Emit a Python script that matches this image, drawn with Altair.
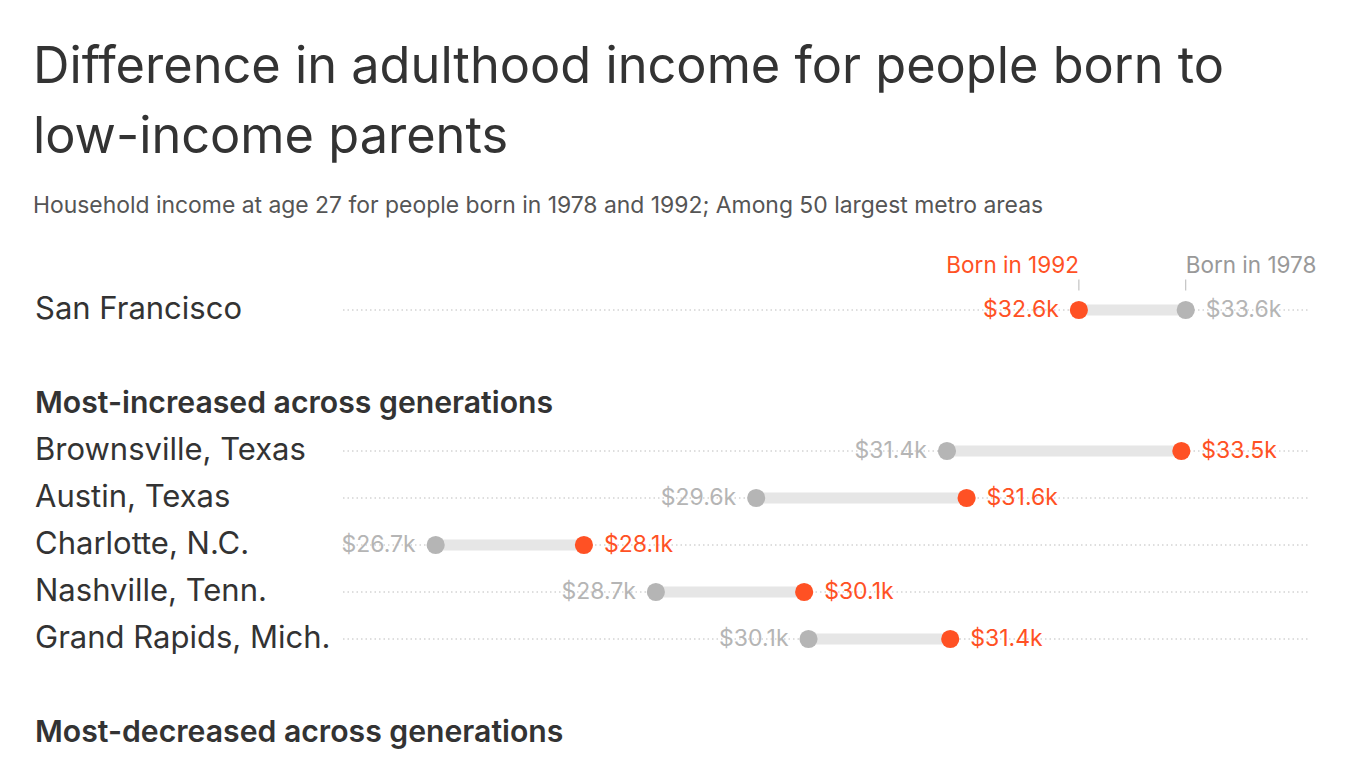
import altair as alt
import pandas as pd

# ---- data ----
cities = ["San Francisco", "Brownsville, Texas", "Austin, Texas",
          "Charlotte, N.C.", "Nashville, Tenn.", "Grand Rapids, Mich."]
rows = [0, 3, 4, 5, 6, 7]
born_1978 = [33.58, 31.39, 29.64, 26.70, 28.72, 30.12]
born_1992 = [32.60, 33.54, 31.57, 28.06, 30.08, 31.42]

headings = ["Most-increased across generations", "Most-decreased across generations"]
heading_rows = [2, 9]

x_domain = [25.85, 34.72]
FONT = "Inter"
ORANGE = "#ff5124"
GRAY_DOT = "#b5b5b5"
GRAY_TXT = "#999999"
DARK = "#333333"

wide = pd.DataFrame({"city": cities, "row": rows, "v1978": born_1978, "v1992": born_1992})
long_rows = []
for c, r, a, b in zip(cities, rows, born_1978, born_1992):
    long_rows.append({"city": c, "row": r, "year": "1978", "value": a, "side": "left" if a < b else "right"})
    long_rows.append({"city": c, "row": r, "year": "1992", "value": b, "side": "left" if b < a else "right"})
long = pd.DataFrame(long_rows)
heads = pd.DataFrame({"text": headings, "row": heading_rows})
annot = long[long["city"] == "San Francisco"].copy()
annot["label"] = "Born in " + annot["year"]

xs = alt.Scale(domain=x_domain, range=[308, 1275], nice=False, zero=False)
ys = alt.Scale(domain=[0, 9], range=[40, 463], nice=False, zero=False)
color = alt.Scale(domain=["1978", "1992"], range=[GRAY_DOT, ORANGE])
tcolor = alt.Scale(domain=["1978", "1992"], range=[GRAY_TXT, ORANGE])

Y = alt.Y("row:Q", scale=ys, axis=None)

base_w = alt.Chart(wide)
base_l = alt.Chart(long)

guides = base_w.mark_rule(color="#bdbdbd", strokeWidth=1, strokeDash=[1.5, 3]).encode(
    x=alt.value(308), x2=alt.value(1275), y=Y)

bars = base_w.mark_rule(color="#e6e6e6", strokeWidth=11, strokeCap="butt").encode(
    x=alt.X("v1978:Q", scale=xs, axis=None), x2="v1992:Q", y=Y)

dots = base_l.mark_circle(size=330, opacity=1).encode(
    x=alt.X("value:Q", scale=xs, axis=None), y=Y,
    color=alt.Color("year:N", scale=color, legend=None))

lbl = "'$' + format(datum.value, '.1f') + 'k'"
left_lbl = base_l.transform_filter("datum.side == 'left'").transform_calculate(lbl=lbl).mark_text(
    align="right", baseline="middle", dx=-20, fontSize=23, font=FONT).encode(
    x=alt.X("value:Q", scale=xs, axis=None), y=Y, text="lbl:N",
    color=alt.Color("year:N", scale=tcolor, legend=None))
right_lbl = base_l.transform_filter("datum.side == 'right'").transform_calculate(lbl=lbl).mark_text(
    align="left", baseline="middle", dx=20, fontSize=23, font=FONT).encode(
    x=alt.X("value:Q", scale=xs, axis=None), y=Y, text="lbl:N",
    color=alt.Color("year:N", scale=tcolor, legend=None))

city_txt = base_w.mark_text(align="left", baseline="middle", fontSize=31, font=FONT, color=DARK).encode(
    x=alt.value(0), y=Y, text="city:N")

head_txt = alt.Chart(heads).mark_text(align="left", baseline="middle", fontSize=30.2, font=FONT,
                                      fontWeight=600, color=DARK).encode(
    x=alt.value(0), y=Y, text="text:N")

ann_base = alt.Chart(annot)
ann_1992 = ann_base.transform_filter("datum.year == '1992'").mark_text(
    align="right", baseline="alphabetic", dy=-37, fontSize=22.5, font=FONT, color=ORANGE).encode(
    x=alt.X("value:Q", scale=xs, axis=None), y=Y, text="label:N")
ann_1978 = ann_base.transform_filter("datum.year == '1978'").mark_text(
    align="left", baseline="alphabetic", dy=-37, fontSize=22.5, font=FONT, color=GRAY_TXT).encode(
    x=alt.X("value:Q", scale=xs, axis=None), y=Y, text="label:N")
ann_ticks = ann_base.mark_tick(orient="vertical", size=11, thickness=1, yOffset=-25, color="#999999").encode(
    x=alt.X("value:Q", scale=xs, axis=None), y=Y)

chart = alt.layer(guides, bars, dots, left_lbl, right_lbl, city_txt, head_txt,
                  ann_ticks, ann_1992, ann_1978).properties(
    width=1275, height=480,
    autosize=alt.AutoSizeParams(type="none"),
    padding={"left": 35, "top": 270, "right": 56, "bottom": 10},
    title=alt.TitleParams(
        text=["Difference in adulthood income for people born to", "low-income parents"],
        subtitle="Household income at age 27 for people born in 1978 and 1992; Among 50 largest metro areas",
        anchor="start", font=FONT, fontSize=50.5, fontWeight="normal", color=DARK, lineHeight=70,
        subtitleFont=FONT, subtitleFontSize=22.9, subtitleColor="#555555", subtitlePadding=32,
        offset=37, dx=-2),
).configure_view(stroke=None)

chart.save("out.html", embed_options={"renderer": "svg", "actions": False})
